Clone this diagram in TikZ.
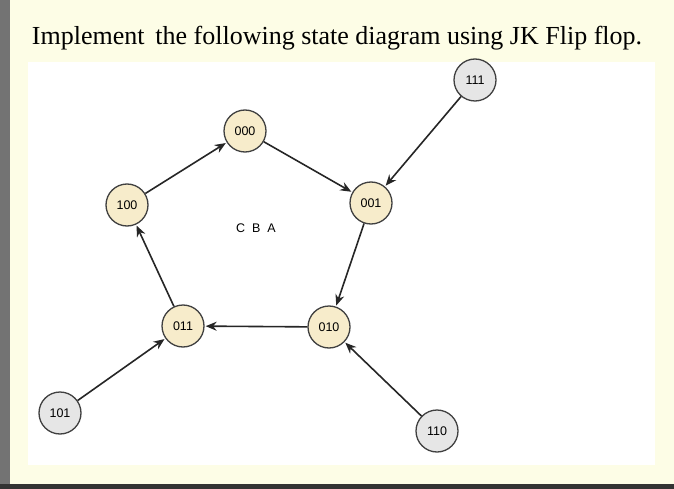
\documentclass[tikz,border=0pt]{standalone}
\usepackage{fontspec}
\setmainfont{Liberation Serif}
\setsansfont{Liberation Sans}
\usetikzlibrary{arrows.meta}
\definecolor{cream}{HTML}{F7ECCB}
\definecolor{lgray}{HTML}{E6E6E6}
\definecolor{paper}{HTML}{FDFDE6}
\begin{document}
\begin{tikzpicture}[
		x=1pt, y=-1pt
		,st/.style={draw=black!75, circle, minimum size=42pt, inner sep=0pt, line width=1.3pt, font=\sffamily\fontsize{12.5}{12.5}\selectfont, fill=cream}
		,ext/.style={st, fill=lgray}
		,tr/.style={-{Stealth[length=11pt,width=9pt]}, line width=1.6pt, black!85, shorten >=1pt}
	]
		\useasboundingbox (0,0) rectangle (674,489);
		\fill[paper] (0,0) rectangle (674,489);
		\fill[white] (28,62) rectangle (655,465);
		\fill[black!55] (0,0) rectangle (10,489);
		\fill[black!80] (0,484) rectangle (674,489);
		\node[font=\fontsize{26}{26}\selectfont] (title) at (337,38) {Implement\, the following state diagram using JK Flip flop.};

		\node[st] (s000) at (245,131) {000};
		\node[st] (s001) at (371,203) {001};
		\node[st] (s100) at (127,205) {100};
		\node[st] (s011) at (183,326) {011};
		\node[st] (s010) at (329,327) {010};
		\node[ext] (s111) at (475,80) {111};
		\node[ext] (s101) at (60,413) {101};
		\node[ext] (s110) at (437,431) {110};
		\node[font=\sffamily\fontsize{12.5}{12.5}\selectfont] (cba) at (256,228) {C\ \ B\ \ A};

		\draw[tr] (s000) -- (s001);
		\draw[tr] (s001) -- (s010);
		\draw[tr] (s010) -- (s011);
		\draw[tr] (s011) -- (s100);
		\draw[tr] (s100) -- (s000);
		\draw[tr] (s111) -- (s001);
		\draw[tr] (s101) -- (s011);
		\draw[tr] (s110) -- (s010);
	\end{tikzpicture}
\end{document}
